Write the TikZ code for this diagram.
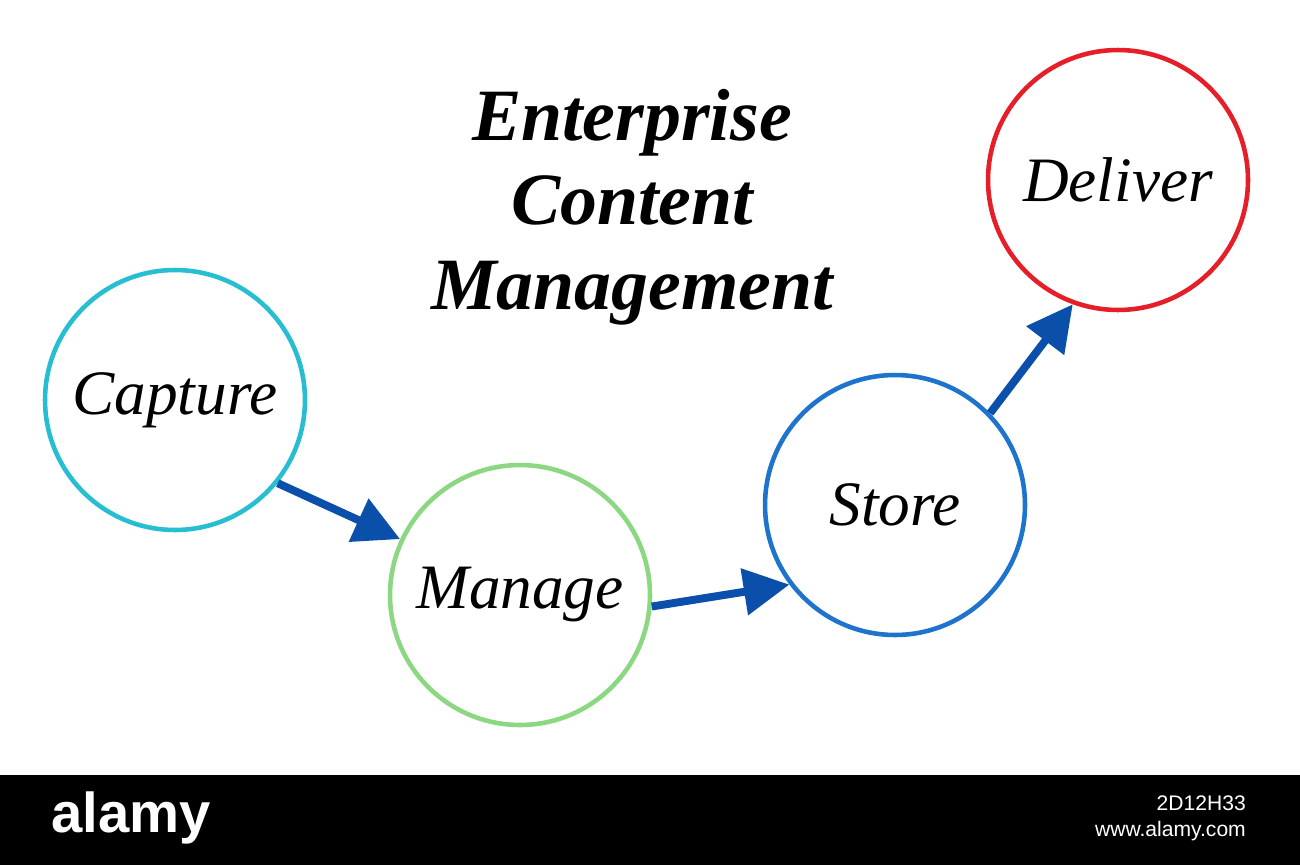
\documentclass[tikz,border=0pt]{standalone}
\usepackage{fontspec}
\setmainfont{Liberation Serif}
\setsansfont{Liberation Sans}
\usetikzlibrary{arrows.meta}
\definecolor{ccap}{RGB}{40,190,210}
\definecolor{cman}{RGB}{140,215,130}
\definecolor{csto}{RGB}{30,115,205}
\definecolor{cdel}{RGB}{230,30,40}
\definecolor{carr}{RGB}{10,80,170}
\begin{document}
\begin{tikzpicture}[x=0.02cm,y=-0.02cm,
  ring/.style={circle,minimum size=5.2cm,line width=2.6pt,inner sep=0pt,font=\fontsize{36}{40}\selectfont\itshape},
  flow/.style={carr,line width=4.5pt,-{Triangle[length=26pt,width=26pt]}}]
\useasboundingbox (0,0) rectangle (1300,865);
\fill[white] (0,0) rectangle (1300,775);
\node[font=\fontsize{42}{48}\selectfont\bfseries\itshape,align=center] (title) at (632,207) {Enterprise\\Content\\Management};
\node[ring,draw=ccap] (cap) at (175,400) {Capture};
\node[ring,draw=cman] (man) at (520,595) {Manage};
\node[ring,draw=csto] (sto) at (895,505) {Store};
\node[ring,draw=cdel] (del) at (1118,180) {Deliver};
\draw[flow] (cap.-39) -- (man.155);
\draw[flow] (man.-5) -- (sto.-143);
\draw[flow] (sto.44) -- (del.-110);
\fill[black] (0,775) rectangle (1300,865);
\node[white,font=\sffamily\bfseries\fontsize{32}{34}\selectfont,anchor=west] (logo) at (45,818) {alamy};
\node[white,font=\sffamily\fontsize{12}{15}\selectfont,anchor=east,align=right] (wm) at (1252,818) {2D12H33\\www.alamy.com};
\end{tikzpicture}
\end{document}
